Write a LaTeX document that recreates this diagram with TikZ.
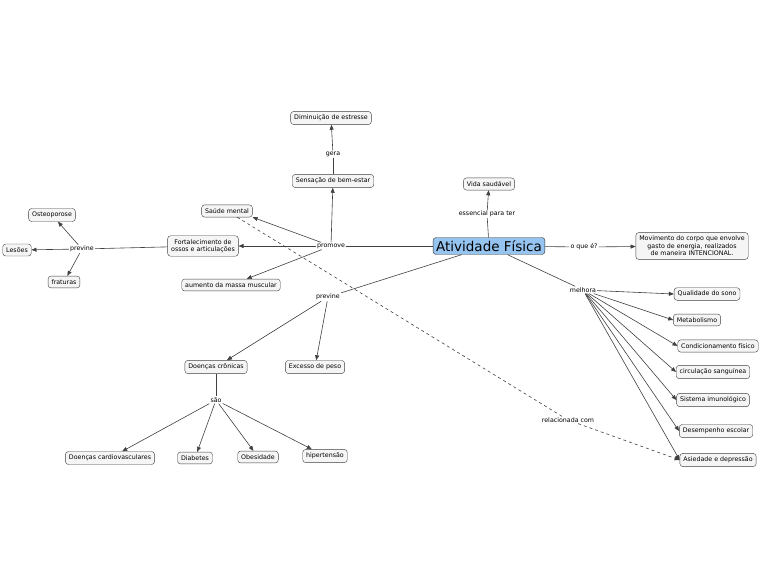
\documentclass[tikz,border=0pt]{standalone}
\usepackage{fontspec}
\setmainfont{DejaVu Sans}
\usetikzlibrary{arrows.meta}
\begin{document}
\begin{tikzpicture}[x=1pt,y=-1pt,
 c/.style={draw=black!75,fill=gray!8,rounded corners=3pt,font=\fontsize{6.3}{7.5}\selectfont,inner sep=3.5pt,align=center},
 l/.style={font=\fontsize{6.3}{7.5}\selectfont,inner sep=1pt,fill=white},
 e/.style={draw=black!75,line width=0.6pt},
 a/.style={e,-{Triangle[length=5pt,width=4pt]}}]
\useasboundingbox (0,0) rectangle (768,578);
\node[draw=black!80,fill={rgb,255:red,150;green,196;blue,240},rounded corners=3pt,font=\fontsize{13.5}{15}\selectfont,inner sep=3pt] (af) at (489,246) {Atividade Física};
\node[c] (dim) at (331,118) {Diminuição de estresse};
\node[l] (gera) at (333,154) {gera};
\node[c] (sen) at (333,181) {Sensação de bem-estar};
\node[c] (vida) at (489,184) {Vida saudável};
\node[l] (ess) at (487,214) {essencial para ter};
\node[l] (oque) at (584,247) {o que é?};
\node[c] (mov) at (692,246) {Movimento do corpo que envolve\\gasto de energia, realizados\\de maneira INTENCIONAL.};
\node[c] (sm) at (227,211) {Saúde mental};
\node[c] (fort) at (203,246) {Fortalecimento de\\ossos e articulações};
\node[l] (prom) at (331,246) {promove};
\node[c] (aum) at (231,285) {aumento da massa muscular};
\node[c] (ost) at (52,215) {Osteoporose};
\node[l] (prevl) at (82,249) {previne};
\node[c] (les) at (17,250) {Lesões};
\node[c] (frat) at (64,282) {fraturas};
\node[l] (prevm) at (328,297) {previne};
\node[l] (mel) at (583,290) {melhora};
\node[c] (q1) at (707,294) {Qualidade do sono};
\node[c] (q2) at (697,320) {Metabolismo};
\node[c] (q3) at (718,346) {Condicionamento físico};
\node[c] (q4) at (713,372) {circulação sanguínea};
\node[c] (q5) at (713,400) {Sistema imunológico};
\node[c] (q6) at (716,431) {Desempenho escolar};
\node[c] (q7) at (718,460) {Asiedade e depressão};
\node[l,fill=none] (rel) at (568,420) {relacionada com};
\node[c] (dc) at (216,367) {Doenças crônicas};
\node[c] (exc) at (315,367) {Excesso de peso};
\node[l] (sao) at (216,400) {são};
\node[c] (d1) at (110,458) {Doenças cardiovasculares};
\node[c] (d2) at (195,458) {Diabetes};
\node[c] (d3) at (258,457) {Obesidade};
\node[c] (d4) at (325,456) {hipertensão};
\draw[e] (af) -- (prom);
\draw[a] (prom) -- (sen); \draw[a] (prom) -- (sm.south east); \draw[a] (prom) -- (fort); \draw[a] (prom) -- (aum);
\draw[e] (sen) -- (gera); \draw[a] (gera) -- (dim);
\draw[e] (af) -- (ess); \draw[a] (ess) -- (vida);
\draw[e] (af) -- (oque); \draw[a] (oque) -- (mov);
\draw[e] (fort) -- (prevl); \draw[a] (prevl) -- (ost); \draw[a] (prevl) -- (les); \draw[a] (prevl) -- (frat);
\draw[e] (af) -- (prevm); \draw[a] (prevm) -- (dc); \draw[a] (prevm) -- (exc);
\draw[e] (dc) -- (sao); \foreach \d in {d1,d2,d3,d4} \draw[a] (sao) -- (\d);
\draw[e] (af) -- (mel);
\foreach \q in {q1,q2,q3,q4,q5,q6,q7} \draw[a] (mel) -- (\q.west);
\draw[e,dashed] (sm) -- (rel); \draw[a,dashed] (rel) -- (q7.west);
\end{tikzpicture}
\end{document}
